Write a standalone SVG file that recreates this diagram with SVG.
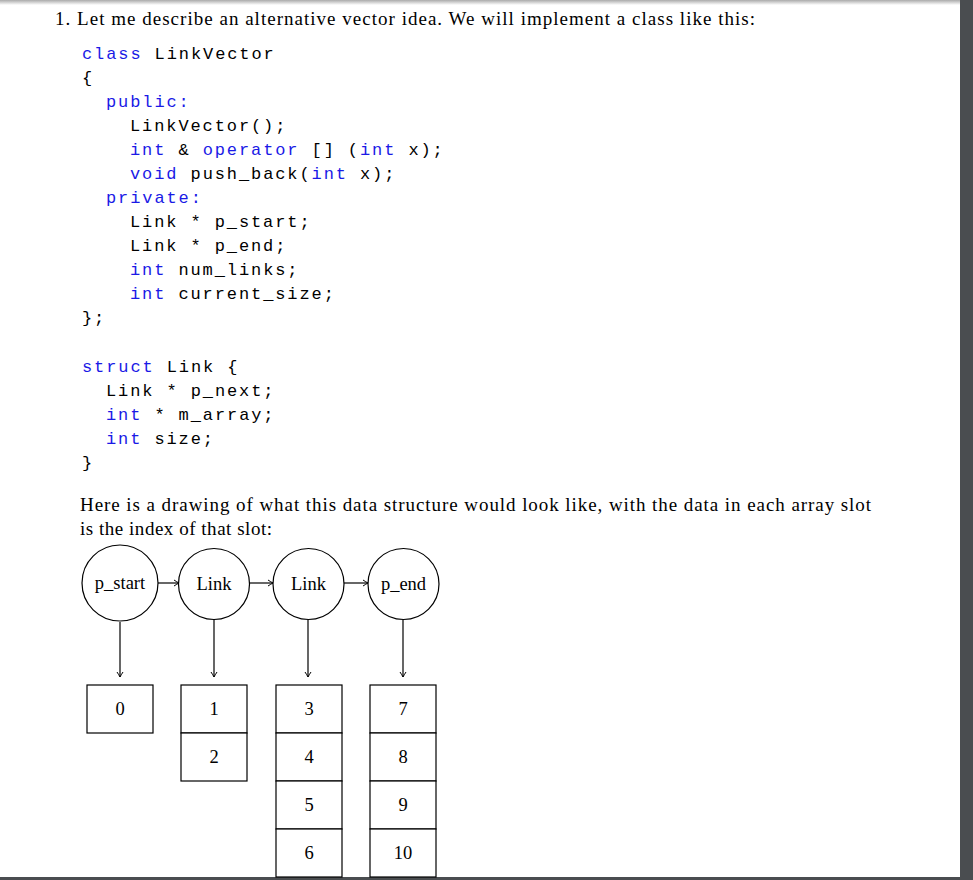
<svg xmlns="http://www.w3.org/2000/svg" width="973" height="880" viewBox="0 0 973 880">
<style>
.t{font-family:"Liberation Serif",serif;font-size:19px;fill:#000}
.c{font-family:"Liberation Mono",monospace;font-size:17px;letter-spacing:1.9px;fill:#000}
.k{fill:#1a1ae6}
.n{fill:#fff;stroke:#000;stroke-width:1.2}
.l{font-family:"Liberation Serif",serif;font-size:18.5px;text-anchor:middle}
.e{stroke:#000;stroke-width:1.2;fill:none;marker-end:url(#a)}
</style>
<defs>
<marker id="a" markerWidth="8" markerHeight="8" refX="6" refY="4" orient="auto" markerUnits="userSpaceOnUse"><path d="M1,1 Q4,3 6,4 Q4,5 1,7" fill="none" stroke="#000" stroke-width="1"/></marker>
<linearGradient id="g" x1="0" y1="0" x2="0" y2="1"><stop offset="0" stop-color="#aaa"/><stop offset="1" stop-color="#fff"/></linearGradient>
</defs>
<rect width="973" height="880" fill="#fff"/>
<rect width="960" height="5" fill="url(#g)"/>
<rect x="960" width="13" height="880" fill="#4a4d50"/>
<rect y="877" width="973" height="3" fill="#4a4d50"/>
<text class="t" x="55" y="25" textLength="700" lengthAdjust="spacing">1.  Let me describe an alternative vector idea.  We will implement a class like this:</text>
<g class="c">
<text x="82" y="59"><tspan class="k">class</tspan> LinkVector</text>
<text x="82" y="83">{</text>
<text x="106" y="107" class="k">public:</text>
<text x="130" y="131">LinkVector();</text>
<text x="130" y="155"><tspan class="k">int</tspan> &amp; <tspan class="k">operator</tspan> [] (<tspan class="k">int</tspan> x);</text>
<text x="130" y="179"><tspan class="k">void</tspan> push_back(<tspan class="k">int</tspan> x);</text>
<text x="106" y="203" class="k">private:</text>
<text x="130" y="227">Link * p_start;</text>
<text x="130" y="251">Link * p_end;</text>
<text x="130" y="275"><tspan class="k">int</tspan> num_links;</text>
<text x="130" y="299"><tspan class="k">int</tspan> current_size;</text>
<text x="82" y="323">};</text>
<text x="82" y="372"><tspan class="k">struct</tspan> Link {</text>
<text x="106" y="396">Link * p_next;</text>
<text x="106" y="420"><tspan class="k">int</tspan> * m_array;</text>
<text x="106" y="444"><tspan class="k">int</tspan> size;</text>
<text x="82" y="468">}</text>
</g>
<text class="t" x="80" y="511" textLength="791" lengthAdjust="spacing">Here is a drawing of what this data structure would look like, with the data in each array slot</text>
<text class="t" x="80" y="535" textLength="192" lengthAdjust="spacing">is the index of that slot:</text>
<g id="edges">
<path class="e" d="M158,583H179"/>
<path class="e" d="M250,583H273"/>
<path class="e" d="M344,583H368"/>
<path class="e" d="M120,622V677"/>
<path class="e" d="M214,619V677"/>
<path class="e" d="M308,619V677"/>
<path class="e" d="M403,619V677"/>
</g>
<g id="n_pstart"><circle class="n" cx="120" cy="583" r="38"/><text class="l" x="120" y="589">p_start</text></g>
<g id="n_link1"><circle class="n" cx="214" cy="584" r="35.5"/><text class="l" x="214" y="590">Link</text></g>
<g id="n_link2"><circle class="n" cx="308.5" cy="584" r="35.5"/><text class="l" x="308.5" y="590">Link</text></g>
<g id="n_pend"><circle class="n" cx="403.5" cy="584" r="35.5"/><text class="l" x="403.5" y="590">p_end</text></g>
<g id="arr0"><rect class="n" x="87" y="685" width="66" height="48"/><text class="l" x="120" y="715">0</text></g>
<g id="arr1">
<rect class="n" x="181" y="685" width="66" height="48"/><text class="l" x="214" y="715">1</text>
<rect class="n" x="181" y="733" width="66" height="48"/><text class="l" x="214" y="763">2</text>
</g>
<g id="arr2">
<rect class="n" x="276" y="685" width="66" height="48"/><text class="l" x="309" y="715">3</text>
<rect class="n" x="276" y="733" width="66" height="48"/><text class="l" x="309" y="763">4</text>
<rect class="n" x="276" y="781" width="66" height="48"/><text class="l" x="309" y="811">5</text>
<rect class="n" x="276" y="829" width="66" height="48"/><text class="l" x="309" y="859">6</text>
</g>
<g id="arr3">
<rect class="n" x="370" y="685" width="66" height="48"/><text class="l" x="403" y="715">7</text>
<rect class="n" x="370" y="733" width="66" height="48"/><text class="l" x="403" y="763">8</text>
<rect class="n" x="370" y="781" width="66" height="48"/><text class="l" x="403" y="811">9</text>
<rect class="n" x="370" y="829" width="66" height="48"/><text class="l" x="403" y="859">10</text>
</g>
</svg>
